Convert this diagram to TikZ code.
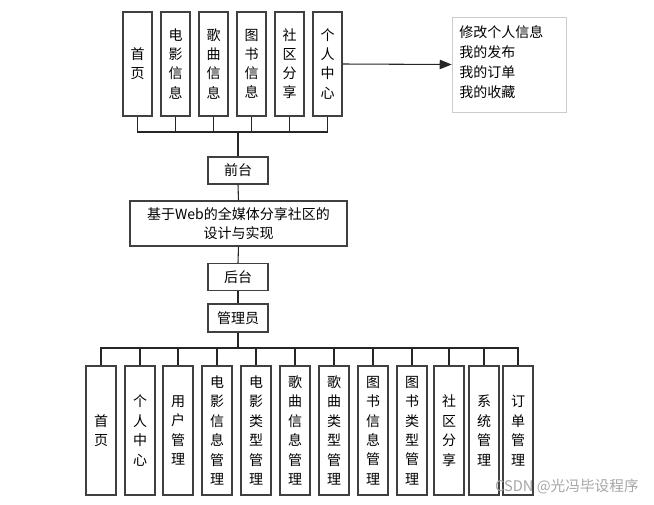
\documentclass[tikz,border=0pt]{standalone}
\usepackage{fontspec}
\setmainfont{Noto Sans CJK SC}
\usetikzlibrary{arrows.meta,shadows}
\begin{document}
\begin{tikzpicture}[x=0.75pt,y=-0.75pt,
  box/.style={draw=black!75,line width=0.8pt,fill=white,inner sep=0pt,align=center,font=\fontsize{10.5}{14.3}\selectfont},
  vbox/.style={box,minimum width=29*0.75pt},
  ln/.style={draw=black!85,line width=0.8pt}]
\useasboundingbox (0,0) rectangle (654,504);
% top
\foreach \n/\x/\t in {t1/137.5/首\\页, t2/175.5/电\\影\\信\\息, t3/213.5/歌\\曲\\信\\息, t4/251.5/图\\书\\信\\息, t5/289.5/社\\区\\分\\享, t6/327.5/个\\人\\中\\心}
  \node[vbox,minimum height=104*0.75pt] (\n) at (\x,64) {\t};
\node[box,minimum width=60*0.75pt,minimum height=27*0.75pt] (qt) at (238,170.5) {前台};
\coordinate (bus1) at (238,132);
\foreach \n in {t1,t2,t3,t4,t5,t6} \draw[ln] (\n.south) |- (bus1);
\draw[ln] (bus1) -- (qt.north);
\node[draw=black!20,fill=white,drop shadow={shadow xshift=1pt,shadow yshift=-1pt,fill=blue!30,opacity=0.4},minimum width=114*0.75pt,minimum height=95*0.75pt,inner sep=0pt] (uc) at (509,64.5) {};
\node[anchor=north west,align=left,inner sep=0pt,font=\fontsize{10.5}{15}\selectfont] (uct) at (459,25) {修改个人信息\\我的发布\\我的订单\\我的收藏};
\draw[ln,-{Triangle[length=9pt,width=7pt]}] (t6.east) -- (uc.west);
\node[box,minimum width=217*0.75pt,minimum height=45*0.75pt] (main) at (238.5,223.5) {基于Web的全媒体分享社区的\\设计与实现};
\node[box,minimum width=60*0.75pt,minimum height=27*0.75pt] (ht) at (238,277) {后台};
\node[box,minimum width=60*0.75pt,minimum height=28*0.75pt] (adm) at (238,318) {管理员};
\draw[ln] (qt.south) -- (main.north);
\draw[ln] (main.south) -- (ht.north);
\draw[ln] (ht.south) -- (adm.north);
\coordinate (bus2) at (238,348);
\draw[ln] (adm.south) -- (bus2);
\foreach \n/\x/\t in {b1/101/首\\页, b2/140/个\\人\\中\\心, b3/178/用\\户\\管\\理, b4/217/电\\影\\信\\息\\管\\理, b5/256/电\\影\\类\\型\\管\\理, b6/295/歌\\曲\\信\\息\\管\\理, b7/334/歌\\曲\\类\\型\\管\\理, b8/373/图\\书\\信\\息\\管\\理, b9/412/图\\书\\类\\型\\管\\理, b10/449/社\\区\\分\\享, b11/484/系\\统\\管\\理, b12/518/订\\单\\管\\理}
  {\node[vbox,minimum width=30*0.75pt,minimum height=129*0.75pt,font=\fontsize{10.5}{14.6}\selectfont] (\n) at (\x,430.5) {\t};
   \draw[ln] (\n.north) |- (bus2);}
\node[text=black!35,font=\fontsize{11}{13}\selectfont,anchor=east,inner sep=0pt] (wm) at (639,487) {CSDN @光冯毕设程序};
\end{tikzpicture}
\end{document}
